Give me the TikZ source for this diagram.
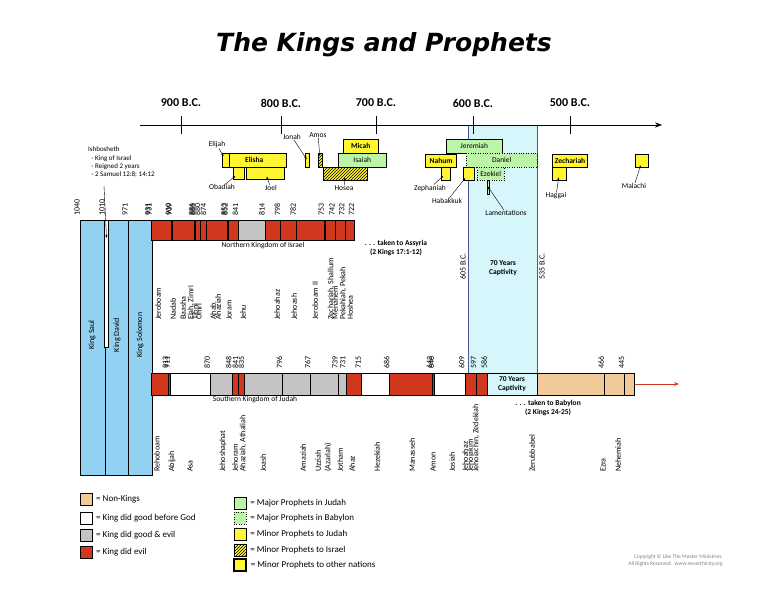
\documentclass[tikz,border=0pt]{standalone}
\usepackage{fontspec}
\setmainfont{Carlito}
\newfontfamily\titlefont{DejaVu Sans}
\usetikzlibrary{patterns,arrows.meta}
\definecolor{evil}{HTML}{D2381E}
\definecolor{mixed}{HTML}{C4C4C4}
\definecolor{unit}{HTML}{93D1F2}
\definecolor{band}{HTML}{D6F6FB}
\definecolor{nonking}{HTML}{F2C998}
\definecolor{proph}{HTML}{FFF530}
\definecolor{major}{HTML}{BDF5A8}
\tikzset{
  yr/.style={rotate=90,anchor=west,inner sep=0,font=\fontsize{8}{9}\selectfont},
  kname/.style={rotate=90,anchor=west,inner sep=0,font=\fontsize{8}{9}\selectfont,align=left},
  small/.style={inner sep=0,font=\fontsize{7.5}{8.5}\selectfont},
  pbox/.style={draw,anchor=north west,inner sep=0,font=\fontsize{7.5}{8}\selectfont\bfseries},
  yel/.style={pbox,fill=proph},
  nat/.style={pbox,fill=proph,line width=1.1pt},
  grn/.style={pbox,fill=major},
  dgrn/.style={pbox,fill=major,dotted},
  hat/.style={pbox,fill=proph,postaction={pattern=north east lines}},
  lbl/.style={small},
  bold/.style={small,font=\fontsize{7.5}{8.5}\selectfont\bfseries,align=center},
  pt/.style={-{Stealth[length=3pt]},shorten >=-3pt},
  leg/.style={draw,minimum size=12,inner sep=0},
  legtxt/.style={anchor=west,inner sep=0,font=\fontsize{9}{10}\selectfont},
  declare function={yx(\y)=181+(900-\y)*0.975;}
}
\begin{document}
\begin{tikzpicture}[x=1pt,y=-1pt]
\useasboundingbox (0,0) rectangle (768,594);
% title and time line
\node[font=\titlefont\fontsize{25}{28}\selectfont\bfseries\itshape] (title) at (384,45) {The Kings and Prophets};
\fill[band] (468,125) rectangle (537,395);
\draw[band!60!blue!60!black] (468,125) -- (468,395) (537,125) -- (537,395);
\coordinate (axs) at (140,125);
\coordinate (axe) at (662,125);
\draw[line width=1pt,-{Stealth[length=7pt]}] (axs) -- (axe);
\foreach \x/\t in {181/900,281/800,376/700,473/600,570/500}{
  \draw[line width=0.8pt] (\x,116) -- (\x,134);
  \node[font=\fontsize{12}{13}\selectfont\bfseries] (t\t) at (\x,103) {\t\ B.C.};
}
% united kingdom
\draw[fill=unit] (80,220) rectangle (105,475);
\draw[fill=unit] (105,220) rectangle (128,475);
\draw[fill=unit] (128,220) rectangle (152,475);
\draw[fill=white] (104,220) rectangle (108.5,347);
\node[kname,anchor=center] (saul) at (92,335) {King Saul};
\node[kname,anchor=center] (david) at (117,335) {King David};
\node[kname,anchor=center] (solomon) at (140,335) {King Solomon};
\foreach \x/\t in {80/1040,105/1010,128/971,152/931}
  \node[yr] at (\x-3,216) {\t};
\node[small,align=left,anchor=north west,font=\fontsize{7}{8}\selectfont] (ish) at (88,146) {Ishbosheth\\[1pt]\ \ - King of Israel\\\ \ - Reigned 2 years\\\ \ - 2 Samuel 12:8; 14:12};
\coordinate (ishend) at (106.5,238);
\draw[-{Stealth[length=3pt]}] (104,186) -- (ishend);
% northern kingdom
\foreach \a/\b/\c in {931/910/evil,910/909/evil,909/886/evil,886/885/evil,885/880/evil,880/874/evil,874/853/evil,853/852/evil,852/841/evil,841/814/mixed,814/798/evil,798/782/evil,782/753/evil,753/752/evil,752/742/evil,742/732/evil,732/722/evil}
  \draw[fill=\c] ({yx(\a)},220) rectangle ({yx(\b)},240);
\foreach \t in {931,910,909,886,885,880,874,853,852,841,814,798,782,753,742,732,722}
  \node[yr] at ({yx(\t)-3},216) {\t};
\node[small] (north) at (263,246) {Northern Kingdom of Israel};
\foreach \x/\t in {158/Jeroboam,173/Nadab,183/Baasha,191/{Elah, Zimri},195/Tibni,199/Omri,213/Ahab,218/Ahaziah,229/Joram,243/Jehu,277/Jehoahaz,294/Jehoash,315/Jeroboam II,331/{Zechariah, Shallum},335/Menahem,343/{Pekahiah, Pekah},350/Hoshea}
  \node[kname] at (\x,320) {\t};
\node[bold] (assyria) at (396,248) {. . . taken to Assyria\\(2 Kings 17:1-12)};
% captivity
\node[yr,anchor=east] (y605) at (463,253) {605 B.C.};
\node[yr,anchor=east] (y535) at (542,253) {535 B.C.};
\node[bold] (capt) at (503,268) {70 Years\\Captivity};
% southern kingdom
\foreach \a/\b/\c in {931/913/evil,913/911/evil,911/870/white,870/848/mixed,848/841/evil,841/835/evil,835/796/mixed,796/767/mixed,767/739/mixed,739/731/mixed,731/715/evil,715/686/white,686/642/evil,642/640/evil,640/609/white,609/597/evil,597/586/evil,586/535/band,535/466/nonking,466/445/nonking,445/434.7/nonking}
  \draw[fill=\c] ({yx(\a)},373) rectangle ({yx(\b)},395);
\foreach \t in {913,911,870,848,841,835,796,767,739,731,715,686,642,640,609,597,586,466,445}
  \node[yr] at ({yx(\t)-3},369) {\t};
\node[bold] (capt2) at (512,384) {70 Years\\Captivity};
\coordinate (sarr) at (679,384);
\draw[evil,-{Stealth[length=5pt]}] ({yx(434.7)},384) -- (sarr);
\node[small] (south) at (255,400) {Southern Kingdom of Judah};
\node[bold] (babylon) at (548,408) {. . . taken to Babylon\\(2 Kings 24-25)};
\foreach \x/\t in {157/Rehoboam,172/Abijah,190/Asa,223/Jehoshaphat,235/Jehoram,243/{Ahaziah, Athaliah},263/Joash,303/Amaziah,318/Uzziah,328/(Azariah),340/Jotham,352/Ahaz,377/Hezekiah,412/Manasseh,433/Amon,452/Josiah,465/Jehoahaz,470/Jehoiakim,476/{Jehoiachin, Zedekiah},532/Zerubbabel,603/Ezra,618/Nehemiah}
  \node[kname] at (\x,472) {\t};
% prophets
\node[yel,minimum width=64,minimum height=14] (elisha) at (222,153) {Elisha};
\node[yel,minimum width=7,minimum height=14] (elijah) at (222,153) {};
\node[yel,minimum width=11,minimum height=12] (obadiah) at (233,167) {};
\node[yel,minimum width=38,minimum height=12] (joel) at (246,167) {};
\node[nat,minimum width=4,minimum height=14] (jonah) at (305,153) {};
\node[hat,minimum width=4,minimum height=14] (amos) at (318,153) {};
\node[yel,minimum width=35,minimum height=14] (micah) at (343,139) {Micah};
\node[grn,minimum width=48,minimum height=14] (isaiah) at (338,153) {\mdseries Isaiah};
\node[hat,minimum width=44,minimum height=13] (hosea) at (323,167) {};
\node[grn,minimum width=56,minimum height=14] (jeremiah) at (446,139) {\mdseries Jeremiah};
\node[nat,minimum width=31,minimum height=13] (nahum) at (425,154) {Nahum};
\node[dgrn,minimum width=71,minimum height=14] (daniel) at (466,153) {\mdseries Daniel};
\node[yel,minimum width=9,minimum height=13] (zephaniah) at (441,167) {};
\node[yel,minimum width=11,minimum height=13] (habakkuk) at (463,167) {};
\node[dgrn,minimum width=27,minimum height=13] (ezekiel) at (477,167) {\mdseries Ezekiel};
\node[grn,minimum width=2,minimum height=14] (lament) at (487,180) {};
\node[nat,minimum width=35,minimum height=13] (zechariah) at (552,154) {Zechariah};
\node[yel,minimum width=14,minimum height=13] (haggai) at (552,167) {};
\node[nat,minimum width=13,minimum height=13] (malachi) at (635,154) {};
\node[lbl] (lelijah) at (217,145) {Elijah};
\node[lbl] (lobadiah) at (222,187) {Obadiah};
\node[lbl] (ljoel) at (271,188) {Joel};
\node[lbl] (ljonah) at (292,137) {Jonah};
\node[lbl] (lamos) at (318,135) {Amos};
\node[lbl] (lhosea) at (344,188) {Hosea};
\node[lbl] (lzephaniah) at (430,188) {Zephaniah};
\node[lbl] (lhabakkuk) at (447,201) {Habakkuk};
\node[lbl] (llament) at (506,213) {Lamentations};
\node[lbl] (lhaggai) at (556,196) {Haggai};
\node[lbl] (lmalachi) at (634,186) {Malachi};
\draw[pt] (lelijah) -- (elijah);
\draw[pt] (lobadiah) -- (obadiah);
\draw[pt] (ljoel) -- (joel);
\draw[pt] (ljonah) -- (jonah);
\draw[pt] (lamos) -- (amos);
\draw[pt] (lhosea) -- (hosea);
\draw[pt] (lzephaniah) -- (zephaniah);
\draw[pt] (lhabakkuk) -- (habakkuk);
\draw[pt] (llament) -- (lament);
\draw[pt] (lhaggai) -- (haggai);
\draw[pt] (lmalachi) -- (malachi);
% legend
\foreach \y/\c/\t in {499/nonking/Non-Kings,518/white/King did good before God,535/mixed/King did good \& evil,552/evil/King did evil}{
  \node[leg,fill=\c] (k\y) at (86,\y) {};
  \node[legtxt] at (96,\y) {= \t};
}
\node[leg,fill=major] (p1) at (240,503) {};
\node[leg,fill=major,dotted] (p2) at (240,518) {};
\node[leg,fill=proph] (p3) at (240,534) {};
\node[leg,fill=proph,postaction={pattern=north east lines}] (p4) at (240,550) {};
\node[leg,fill=proph,line width=1.1pt] (p5) at (240,565) {};
\foreach \n/\t in {p1/Major Prophets in Judah,p2/Major Prophets in Babylon,p3/Minor Prophets to Judah,p4/Minor Prophets to Israel,p5/Minor Prophets to other nations}
  \node[legtxt] at ([xshift=4]\n.east) {= \t};
\node[inner sep=0,anchor=east,align=right,text=gray,font=\fontsize{5.5}{7}\selectfont] (copy) at (723,561) {Copyright \textcopyright\ Like The Master Ministries.\\All Rights Reserved.\ \ www.neverthirsty.org};
\end{tikzpicture}
\end{document}
